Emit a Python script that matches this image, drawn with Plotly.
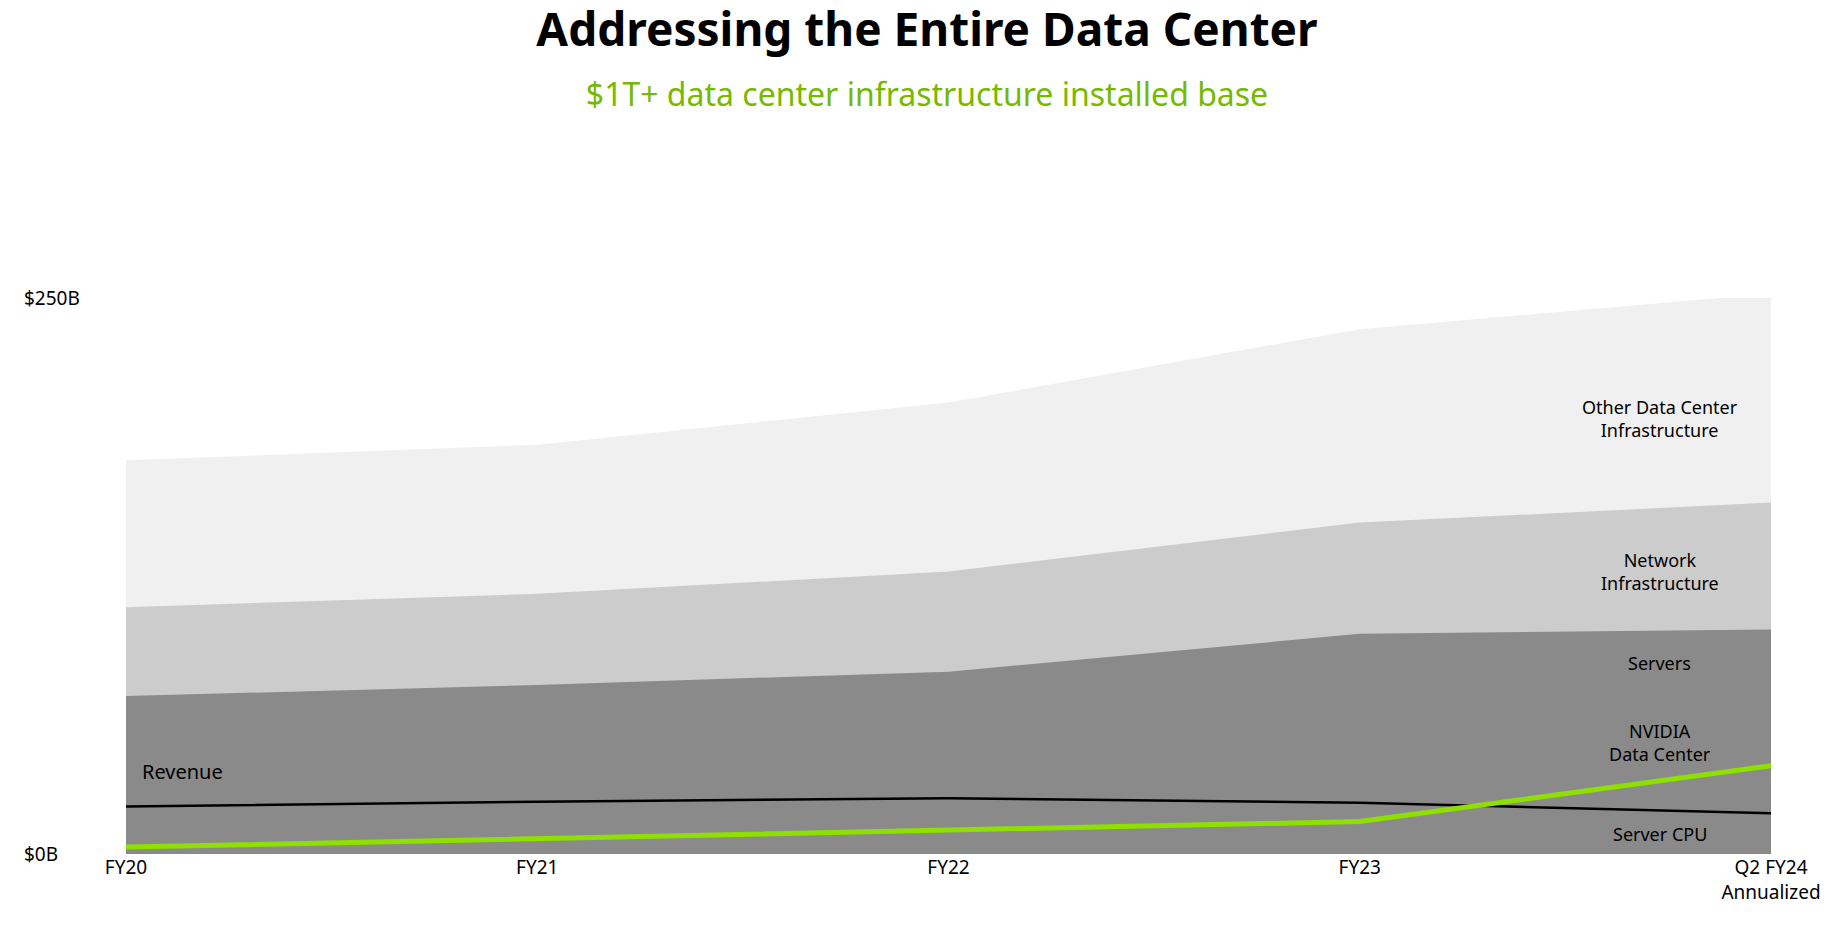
import plotly.graph_objects as go

years = ["FY20", "FY21", "FY22", "FY23", "Q2 FY24<br>Annualized"]
other_top = [177, 184, 203, 236, 252]
network_top = [111, 117, 127, 149, 158]
servers_top = [71, 76, 82, 99, 101]
revenue = [21.4, 23.5, 25.1, 23, 18.3]
nvidia_dc = [3.1, 6.8, 10.5, 14.6, 39.7]
ytick_vals = [0, 250]
ytick_text = ["&#36;0B", "&#36;250B"]

xi = list(range(len(years)))
fig = go.Figure()
for top, col in [(other_top, "#f0f0f0"), (network_top, "#cccccc"), (servers_top, "#8a8a8a")]:
    fig.add_trace(go.Scatter(x=xi, y=top, fill="tozeroy", mode="lines",
                             line=dict(width=0), fillcolor=col, hoverinfo="skip"))
fig.add_trace(go.Scatter(x=xi, y=revenue, mode="lines", line=dict(color="black", width=2.5)))
fig.add_trace(go.Scatter(x=xi, y=nvidia_dc, mode="lines", line=dict(color="#8ee000", width=5)))

labels = [("Other Data Center<br>Infrastructure", 196),
          ("Network<br>Infrastructure", 127),
          ("Servers", 86), ("NVIDIA<br>Data Center", 50), ("Server CPU", 9)]
for txt, y in labels:
    fig.add_annotation(x=3.73, y=y, text=txt, showarrow=False,
                       font=dict(size=18, color="black"))
fig.add_annotation(x=0.035, y=37, text="Revenue", showarrow=False, xanchor="left",
                   font=dict(size=20, color="black"))
for v, t in zip(ytick_vals, ytick_text):
    fig.add_annotation(xref="paper", x=-0.063, y=v, text=t, showarrow=False,
                       xanchor="left", font=dict(size=19, color="black"))

fig.update_layout(
    width=1838, height=952, plot_bgcolor="white", paper_bgcolor="white",
    showlegend=False, font=dict(family="Noto Sans", color="black"),
    margin=dict(l=118, r=75, t=290, b=106),
    title=dict(text="<b>Addressing the Entire Data Center</b><br>"
                    "<span style='font-size:32px;color:#76b900'>&#36;1T+ data center infrastructure installed base</span>",
               x=0.5, xanchor="center", y=0.96, yanchor="top", font=dict(size=46)),
    xaxis=dict(tickvals=xi, ticktext=years, range=[0, 4], showgrid=False,
               zeroline=False, tickfont=dict(size=19)),
    yaxis=dict(range=[0, 250], showticklabels=False, showgrid=False, zeroline=False),
)
fig.write_html("out.html")
